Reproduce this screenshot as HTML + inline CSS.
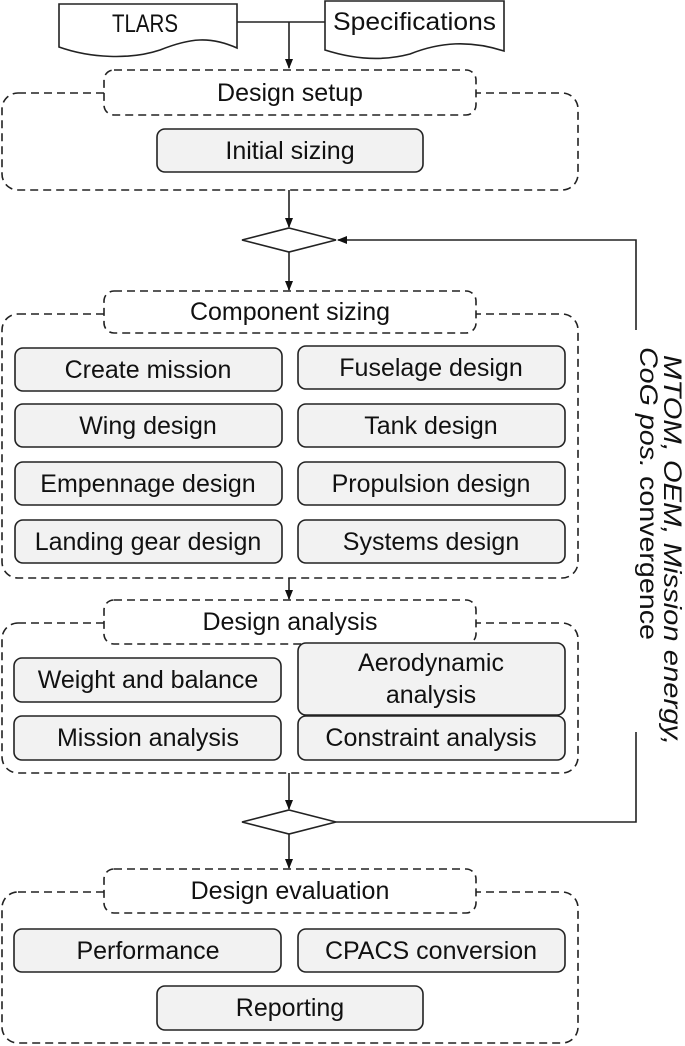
<!DOCTYPE html>
<html><head><meta charset="utf-8"><style>html,body{margin:0;padding:0;background:#fff}svg{display:block}text{font-family:"Liberation Sans",sans-serif;font-size:25px;fill:#111}</style></head>
<body>
<svg width="685" height="1046" viewBox="0 0 685 1046" xmlns="http://www.w3.org/2000/svg">
<defs><marker id="a" markerWidth="10" markerHeight="10" refX="9" refY="5" orient="auto" markerUnits="userSpaceOnUse"><path d="M0,1 L10,5 L0,9 Z" fill="#111"/></marker></defs>
<g fill="none" stroke="#222" stroke-width="1.6">
<path d="M59,4 H237 V48 C210,36 190,38 160,50 C130,60 90,58 59,47 Z" fill="#fff"/>
<path d="M325,1 H504 V51 C470,40 440,42 410,54 C380,62 350,58 325,50 Z" fill="#fff"/>
<path d="M237,22 H325 M289,22 V68" marker-end="url(#a)"/>
<g stroke-dasharray="8,5">
<rect x="2" y="93" width="576" height="97" rx="16"/>
<rect x="2" y="314" width="576" height="264" rx="16"/>
<rect x="2" y="623" width="576" height="150" rx="16"/>
<rect x="2" y="892" width="576" height="151" rx="16"/>
<rect x="104" y="70" width="372" height="45" rx="10" fill="#fff"/>
<rect x="104" y="291" width="372" height="42" rx="10" fill="#fff"/>
<rect x="104" y="600" width="372" height="44" rx="10" fill="#fff"/>
<rect x="104" y="869" width="372" height="44" rx="10" fill="#fff"/>
</g>
<g fill="#f2f2f2">
<rect x="157" y="129" width="266" height="43" rx="8"/>
<rect x="15" y="348" width="267" height="43" rx="8"/>
<rect x="298" y="346" width="267" height="43" rx="8"/>
<rect x="15" y="404" width="267" height="43" rx="8"/>
<rect x="298" y="404" width="267" height="43" rx="8"/>
<rect x="15" y="462" width="267" height="43" rx="8"/>
<rect x="298" y="462" width="267" height="43" rx="8"/>
<rect x="15" y="520" width="267" height="43" rx="8"/>
<rect x="298" y="520" width="267" height="43" rx="8"/>
<rect x="14" y="658" width="267" height="44" rx="8"/>
<rect x="298" y="643" width="267" height="72" rx="8"/>
<rect x="14" y="716" width="267" height="44" rx="8"/>
<rect x="298" y="716" width="267" height="44" rx="8"/>
<rect x="14" y="929" width="267" height="43" rx="8"/>
<rect x="298" y="929" width="267" height="43" rx="8"/>
<rect x="157" y="986" width="266" height="44" rx="8"/>
</g>
<path d="M289,190 V227" marker-end="url(#a)"/>
<path d="M289,228 L336,240 L289,252 L242,240 Z" fill="#fff"/>
<path d="M289,252 V290" marker-end="url(#a)"/>
<path d="M289,578 V599" marker-end="url(#a)"/>
<path d="M289,773 V809" marker-end="url(#a)"/>
<path d="M289,810 L336,822 L289,834 L242,822 Z" fill="#fff"/>
<path d="M289,834 V868" marker-end="url(#a)"/>
<path d="M636,330 V240 H338" marker-end="url(#a)"/>
<path d="M336,822 H636 V732"/>
</g>
<g text-anchor="middle">
<text x="112" y="32" font-size="26" textLength="66" lengthAdjust="spacingAndGlyphs" text-anchor="start" x2="0">TLARS</text>
<text x="333" y="30" font-size="26" textLength="163" lengthAdjust="spacingAndGlyphs" text-anchor="start">Specifications</text>
<text x="290" y="101">Design setup</text>
<text x="290" y="159">Initial sizing</text>
<text x="290" y="320">Component sizing</text>
<text x="148" y="378">Create mission</text>
<text x="431" y="376">Fuselage design</text>
<text x="148" y="434">Wing design</text>
<text x="431" y="434">Tank design</text>
<text x="148" y="492">Empennage design</text>
<text x="431" y="492">Propulsion design</text>
<text x="148" y="550">Landing gear design</text>
<text x="431" y="550">Systems design</text>
<text x="290" y="630">Design analysis</text>
<text x="148" y="688">Weight and balance</text>
<text x="431" y="671">Aerodynamic</text>
<text x="431" y="703">analysis</text>
<text x="148" y="746">Mission analysis</text>
<text x="431" y="746">Constraint analysis</text>
<text x="290" y="899">Design evaluation</text>
<text x="148" y="959">Performance</text>
<text x="431" y="959">CPACS conversion</text>
<text x="290" y="1016">Reporting</text>
</g>
<text transform="translate(664,355) rotate(90)" font-style="italic" font-size="24" textLength="390" lengthAdjust="spacingAndGlyphs">MTOM, OEM, Mission energy,</text>
<text transform="translate(640,347) rotate(90)" font-size="24" textLength="293" lengthAdjust="spacingAndGlyphs"><tspan font-style="italic">CoG pos.</tspan> convergence</text>
</svg>
</body></html>
